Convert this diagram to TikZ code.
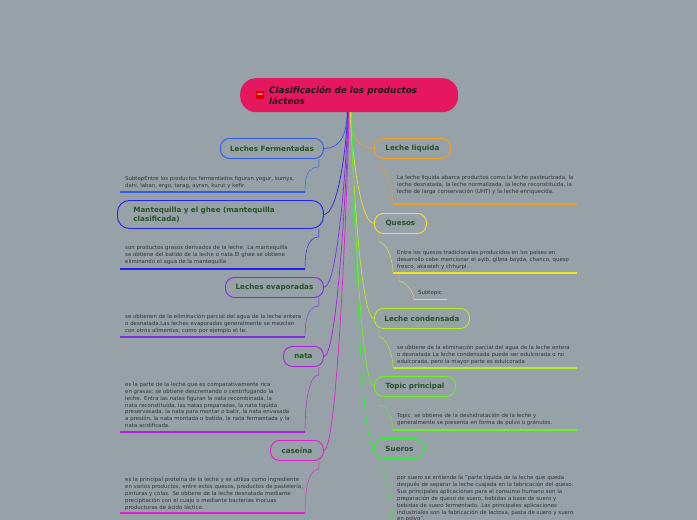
\documentclass[tikz,border=0pt]{standalone}
\usepackage{fontspec}
\setmainfont{DejaVu Sans}
\newcommand\dfont{\fontsize{5.4}{6.9}\selectfont\hyphenpenalty=10000 \exhyphenpenalty=10000 }
\begin{document}
\begin{tikzpicture}[x=1pt,y=-1pt,
  topic/.style={draw=#1,line width=0.9pt,rounded corners=9pt,minimum height=20pt,anchor=north west,inner xsep=7pt,font=\fontsize{7.2}{8.8}\selectfont\bfseries,text=green!20!black!85,align=left},
  desc/.style={anchor=north west,text width=#1,inner sep=0pt,font=\dfont,text=black!80,align=left},
  conn/.style={draw=#1,line width=0.7pt},
  sub/.style={draw=#1,line width=0.4pt},
  ul/.style={draw=#1,line width=1.2pt}]
\fill[fill={rgb,255:red,151;green,161;blue,168}] (0,0) rectangle (697,520);
\useasboundingbox (0,0) rectangle (697,520);
\definecolor{cA}{RGB}{47,91,234}
\definecolor{cB}{RGB}{34,34,238}
\definecolor{cC}{RGB}{123,47,224}
\definecolor{cD}{RGB}{176,32,224}
\definecolor{cE}{RGB}{224,32,208}
\definecolor{cF}{RGB}{240,160,32}
\definecolor{cG}{RGB}{240,230,32}
\definecolor{cH}{RGB}{176,240,32}
\definecolor{cI}{RGB}{112,240,32}
\definecolor{cJ}{RGB}{48,240,48}
% root
\node[fill={rgb,255:red,229;green,23;blue,95},rounded corners=16pt,minimum width=218pt,minimum height=34pt,anchor=north west] (root) at (240,78) {};
\node[fill=red!85!black,rounded corners=1pt,minimum size=8pt,inner sep=0pt,font=\fontsize{2.5}{3}\selectfont\bfseries,text=white] (icon) at (260,95) {SOS};
\node[anchor=west,font=\fontsize{8.8}{11.5}\selectfont\bfseries\itshape,align=left,text=black!90,inner xsep=0pt] (title) at (269,95.5) {Clasificación de los productos\\lácteos};
\coordinate (rb) at (349,112);
% left topics
\node[topic=cA,minimum width=103pt] (t1) at (220,138) {Leches Fermentadas};
\node[draw=cB,line width=0.9pt,rounded corners=12pt,minimum height=28pt,anchor=north west,inner xsep=16pt,font=\fontsize{7.2}{9}\selectfont\bfseries,text=green!20!black!85,align=left,text width=174pt] (t2) at (117,200) {Mantequilla y el ghee (mantequilla\\clasificada)};
\node[topic=cC,minimum width=98pt] (t3) at (225,277) {Leches evaporadas};
\node[topic=cD,minimum width=40pt] (t4) at (283,346) {nata};
\node[topic=cE,minimum width=53pt] (t5) at (270,440) {caseína};
% right topics
\node[topic=cF,minimum width=76pt] (t6) at (374,138) {Leche liquida};
\node[topic=cG,minimum width=52pt] (t7) at (374,213) {Quesos};
\node[topic=cH,minimum width=95pt] (t8) at (374,308) {Leche condensada};
\node[topic=cI,minimum width=81pt] (t9) at (374,376) {Topic principal};
\node[topic=cJ,minimum width=50pt] (t10) at (374,438) {Sueros};
% main connectors
\foreach \n/\c/\dx in {t1/cA/-2,t2/cB/-1.5,t3/cC/-1,t4/cD/-0.5,t5/cE/0}
  \draw[conn=\c] ([xshift=\dx pt]rb) .. controls +(0,25) and +(15,0) .. (\n.east);
\foreach \n/\c/\dx in {t6/cF/1,t7/cG/1.5,t8/cH/2,t9/cI/2.5,t10/cJ/3}
  \draw[conn=\c] ([xshift=\dx pt]rb) .. controls +(0,25) and +(-15,0) .. (\n.west);
% left descriptions
\node[desc=180pt] (d1) at (125,176) {SubtopEntre los productos fermentados figuran yogur, kumys, dahi, laban, ergo, tarag, ayran, kurut y kefir.};
\node[desc=180pt] (d2) at (125,245) {son productos grasos derivados de la leche. La mantequilla se obtiene del batido de la leche o nata.El ghee se obtiene eliminando el agua de la mantequilla};
\node[desc=180pt] (d3) at (125,314) {se obtienen de la eliminación parcial del agua de la leche entera o desnatada.Las leches evaporadas generalmente se mezclan con otros alimentos, como por ejemplo el te.};
\node[desc=170pt] (d4) at (125,382) {es la parte de la leche que es comparativamente rica en grasas; se obtiene descremando o centrifugando la leche. Entra las natas figuran la nata recombinada, la nata reconstituida, las natas preparadas, la nata liquida preservasada, la nata para montar o batir, la nata envasada a presión, la nata montada o batida, la nata fermentada y la nata acidificada.};
\node[desc=180pt] (d5) at (125,477) {es la principal proteína de la leche y se utiliza como ingrediente en varios productos, entre estos quesos, productos de pastelería, pinturas y colas. Se obtiene de la leche desnatada mediante precipitación con el cuajo o mediante bacterias inocuas productoras de ácido láctico.};
\foreach \i/\c/\y in {1/cA/192,2/cB/269,3/cC/337,4/cD/432,5/cE/513}{
  \coordinate (u\i) at (305,\y);
  \draw[ul=\c] (120,\y) -- (u\i);
  \draw[sub=\c] ([xshift=-5pt]t\i.south east) -- ++(0,8) .. controls +(-13,0) and +(0,-12) .. (u\i);
}
% right descriptions
\node[desc=180pt] (d6) at (397,175) {La leche liquida abarca productos como la leche pasteurizada, la leche desnatada, la leche normalizada, la leche reconstituida, la leche de larga conservación (UHT) y la leche enriquecida.};
\node[desc=180pt] (d7) at (397,250) {Entre los quesos tradicionales producidos en los países en desarrollo cabe mencionar el ayib, gibna bayda, chanco, queso fresco, akawieh y chhurpi.};
\node[desc=180pt] (d8) at (397,345) {se obtiene de la eliminación parcial del agua de la leche entera o desnatada La leche condensada puede ser edulcorada o no edulcorada, pero la mayor parte es edulcorada};
\node[desc=170pt] (d9) at (397,413) {Topic\ \ se obtiene de la deshidratación de la leche y generalmente se presenta en forma de polvo o gránulos.};
\node[desc=180pt] (d10) at (397,475) {por suero se entiende la "parte líquida de la leche que queda después de separar la leche cuajada en la fabricación del queso. Sus principales aplicaciones para el consumo humano son la preparación de queso de suero, bebidas a base de suero y bebidas de suero fermentado. Las principales aplicaciones industriales son la fabricación de lactosa, pasta de suero y suero en polvo".};
\foreach \i/\c/\y in {6/cF/204,7/cG/273,8/cH/368,9/cI/430}{
  \coordinate (u\i) at (393,\y);
  \draw[ul=\c] (u\i) -- (577,\y);
  \draw[sub=\c] ([xshift=5pt]t\i.south west) -- ++(0,8) .. controls +(8,0) and +(0,-12) .. (u\i);
}
\coordinate (u10) at (393,530);
\draw[sub=cJ] ([xshift=5pt]t10.south west) -- ++(0,8) .. controls +(8,0) and +(0,-30) .. (u10);
% subtopic
\node[anchor=north west,inner sep=0pt,font=\fontsize{5.4}{6}\selectfont,text=black!80] (s1) at (418,290) {Subtopic};
\coordinate (us) at (414,299);
\draw[ul=cG,line width=0.9pt] (us) -- (447,299);
\draw[sub=cG] (399,273) -- ++(0,8) .. controls +(5,0) and +(0,-8) .. (us);
\end{tikzpicture}
\end{document}
